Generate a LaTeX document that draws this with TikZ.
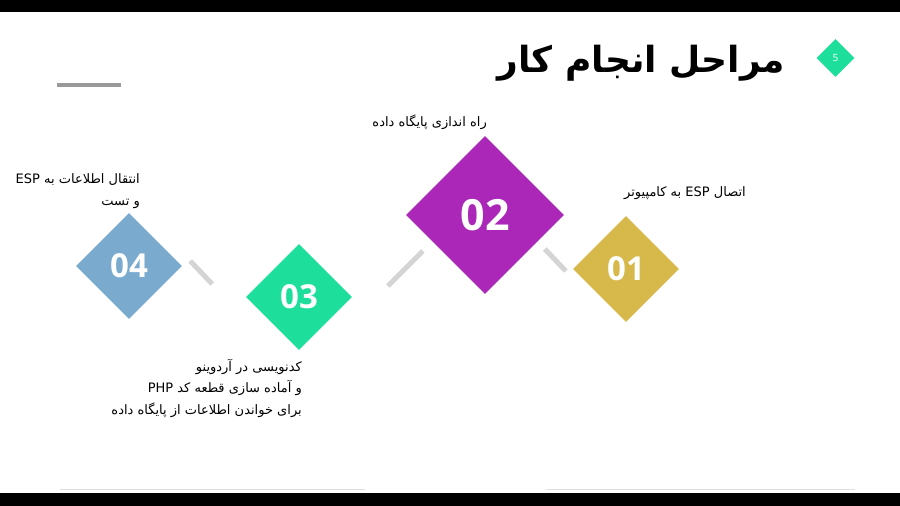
\documentclass[tikz,border=0pt]{standalone}
\usepackage{fontspec}
\setmainfont{Open Sans}
\newfontfamily\persianfont[Script=Arabic]{DejaVu Sans}
\TeXXeTstate=1
\usetikzlibrary{shapes.geometric,positioning}
\definecolor{steel}{RGB}{122,170,205}
\definecolor{mint}{RGB}{29,223,155}
\definecolor{plum}{RGB}{170,39,184}
\definecolor{mustard}{RGB}{214,185,74}
\definecolor{bargray}{RGB}{212,212,212}
\newcommand{\rtlline}[1]{\beginR #1\endR}

\begin{document}
\begin{tikzpicture}[x=1pt,y=-1pt,
    stage/.style={diamond,aspect=1,inner sep=0pt,minimum width=106pt,minimum height=106pt,
      text=white,font=\bfseries\fontsize{33}{33}\selectfont},
    link/.style={bargray,line width=5pt},
    note/.style={anchor=east,align=right,inner sep=0pt,font=\persianfont\fontsize{13}{21.5}\selectfont}]
    \useasboundingbox (0,0) rectangle (900,506);
    \fill[white] (0,0) rectangle (900,506);
    % black bands of the slide frame
    \fill[black] (0,0) rectangle (900,12);
    \fill[black] (0,493) rectangle (900,506);
    % title
    \node[diamond,aspect=1,inner sep=0pt,minimum width=38pt,minimum height=38pt,fill=mint,text=white,font=\fontsize{10}{10}\selectfont] (num) at (835.5,58) {5};
    \node[anchor=east,inner sep=0pt,font=\persianfont\bfseries\fontsize{36}{36}\selectfont] (title) at (785,63) {\rtlline{مراحل انجام کار}};
    \draw[gray!80,line width=4pt] (57,85) coordinate (rulea) -- (121,85) coordinate (ruleb);
    % steps
    \node[stage,fill=steel] (d4) at (129,266) {04};
    \node[stage,fill=mint] (d3) at (299,297) {03};
    \node[stage,fill=plum,minimum width=158pt,minimum height=158pt,font=\bfseries\fontsize{43}{43}\selectfont] (d2) at (485,215) {02};
    \node[stage,fill=mustard] (d1) at (626,269) {01};
    \draw[link] ([shift={(8,-5)}]d4.east) -- ([shift={(30,18)}]d4.east);
    \draw[link] ([shift={(-18,71)}]d2.west) -- ([shift={(17,36)}]d2.west);
    \draw[link] ([shift={(-28,-20)}]d1.west) -- ([shift={(-7,2)}]d1.west);
    % labels
    \node[note] (t1) at (746,193) {\rtlline{اتصال \beginL ESP\endL{} به کامپیوتر}};
    \node[note] (t2) at (487,122) {\rtlline{راه اندازی پایگاه داده}};
    \node[note] (t3) at (302,388) {\rtlline{کدنویسی در آردوینو}\\
      \rtlline{و آماده سازی قطعه کد \beginL PHP\endL}\\
      \rtlline{برای خواندن اطلاعات از پایگاه داده}};
    \node[note] (t4) at (140,191) {\rtlline{انتقال اطلاعات به \beginL ESP\endL}\\
      \rtlline{و تست}};
    % faint footer lines
    \draw[gray!25,line width=1pt] (60,489) -- (365,489);
    \draw[gray!25,line width=1pt] (546,489) -- (855,489);
\end{tikzpicture}
\end{document}
